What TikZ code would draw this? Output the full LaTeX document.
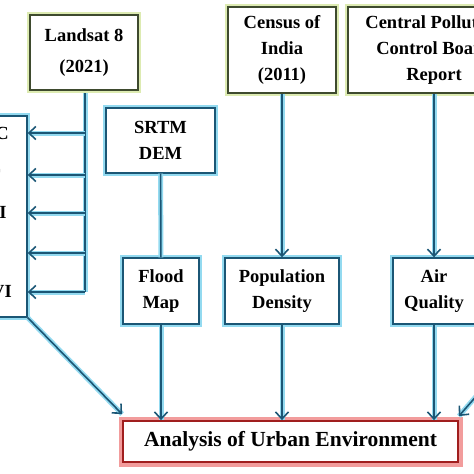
\documentclass[tikz,border=0pt]{standalone}
\usepackage{xcolor}
\usepackage{fontspec}
\setmainfont{Liberation Serif}
\usetikzlibrary{shapes,arrows.meta,positioning}

\definecolor{linecol}{HTML}{1B5675}
\definecolor{glowblue}{HTML}{93DAF0}
\definecolor{olivecol}{HTML}{3E4A2E}
\definecolor{glowgreen}{HTML}{DDEBB2}
\definecolor{redcol}{HTML}{A01E1E}
\definecolor{glowred}{HTML}{F29C9C}

\begin{document}
\begin{tikzpicture}[
        x=1pt, y=-1pt,
        every node/.style={font=\fontsize{18.5}{26}\selectfont\bfseries},
        source/.style={rectangle, draw=olivecol, line width=1.4pt, fill=white, align=center, preaction={draw=glowgreen, line width=6.5pt}},
        product/.style={rectangle, draw=linecol, line width=1.4pt, fill=white, align=center, preaction={draw=glowblue, line width=6.5pt}},
        target/.style={rectangle, draw=redcol, line width=1.8pt, fill=white, align=center, preaction={draw=glowred, line width=9pt}},
        idxtext/.style={inner sep=0pt},
        arrow/.style={draw=linecol, line width=1.6pt, -{Straight Barb[length=7pt, width=13pt]}, preaction={draw=glowblue, line width=5pt, -}},
        link/.style={draw=linecol, line width=1.6pt, preaction={draw=glowblue, line width=5pt}}
    ]
        \useasboundingbox (0,0) rectangle (474,474);
        \begin{scope}
        \clip (0,0) rectangle (474,474);
        % Connections
        \coordinate (trunk) at (85,90);
        \foreach \y [count=\i] in {133,175,213,253,292} {
            \coordinate (tap\i) at (85,\y);
        }
        \draw[link] (trunk) -- (tap5);
        \coordinate (offright) at (492,378);

        % Source boxes
        \node[source, minimum width=108, minimum height=75, font=\fontsize{18.5}{31}\selectfont\bfseries] (landsat) at (84,52.5) {Landsat 8\\(2021)};
        \node[source, minimum width=108, minimum height=86] (census) at (282,50) {Census of\\India\\(2011)};
        \node[source, minimum width=172, minimum height=86] (cpcb) at (434,50) {Central Pollution\\Control Board\\Report};

        % Derived layers
        \node[product, minimum width=88, minimum height=201] (indices) at (-17,216.5) {};
        \foreach \y/\t [count=\i] in {133/LULC,175/LST,213/NDVI,253/UHI,292/UTFVI} {
            \node[idxtext] (ix\i) at (-17,\y) {\t};
        }
        \node[product, minimum width=109, minimum height=65] (srtm) at (160.5,140.5) {SRTM\\DEM};
        \node[product, minimum width=76, minimum height=66] (flood) at (161,291) {Flood\\Map};
        \node[product, minimum width=114, minimum height=66] (popden) at (282,291) {Population\\Density};
        \node[product, minimum width=82, minimum height=66] (air) at (434,291) {Air\\Quality};

        % Final analysis
        \node[target, minimum width=335, minimum height=41, font=\fontsize{21.5}{24}\selectfont\bfseries] (analysis) at (290.5,441.5) {Analysis of Urban Environment};

        % Arrows
        \foreach \i in {1,...,5} {
            \draw[arrow] (tap\i) -- (indices.east |- ix\i);
        }
        \draw[link] (srtm) -- (flood);
        \draw[arrow] (census) -- (popden);
        \draw[arrow] (cpcb) -- (air);
        \draw[arrow] (flood) -- (flood |- analysis.north);
        \draw[arrow] (popden) -- (popden |- analysis.north);
        \draw[arrow] (air) -- (air |- analysis.north);
        \draw[arrow] (indices.south east) -- ([yshift=6pt]analysis.north west);
        \draw[arrow] (offright) -- ([yshift=4pt]analysis.north east);
        \end{scope}
    \end{tikzpicture}
\end{document}
